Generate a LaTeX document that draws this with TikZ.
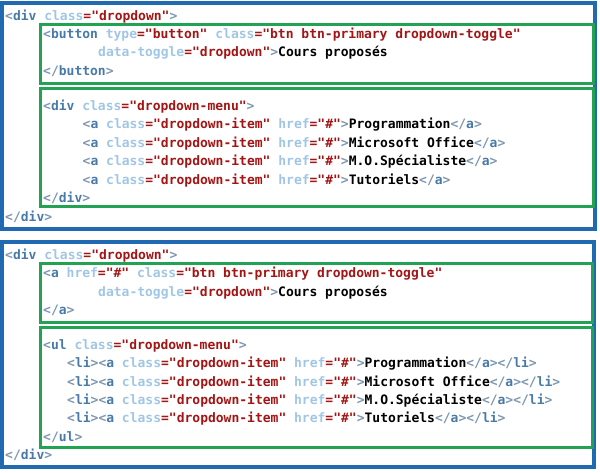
\documentclass[tikz,border=0pt]{standalone}
\usepackage{fontspec}
\newfontfamily\codefont{DejaVu Sans Mono}
\definecolor{boxblue}{RGB}{31,106,176}
\definecolor{boxgreen}{RGB}{34,163,84}
\definecolor{tagblue}{RGB}{72,122,168}
\definecolor{brkgray}{RGB}{125,150,175}
\definecolor{attblue}{RGB}{160,198,228}
\definecolor{valred}{RGB}{163,21,21}
\newcommand{\hop}[1]{\textcolor{brkgray}{<}\textcolor{tagblue}{#1}}
\newcommand{\hcl}[1]{\textcolor{brkgray}{</}\textcolor{tagblue}{#1}\textcolor{brkgray}{>}}
\newcommand{\hgt}{\textcolor{brkgray}{>}}
\newcommand{\hatt}[1]{\textcolor{attblue}{#1}}
\newcommand{\hval}[1]{\textcolor{valred}{=#1}}
\begin{document}
\begin{tikzpicture}[x=1pt,y=-1pt,
  code/.style={anchor=base west,inner sep=0pt,
    font={\codefont\bfseries\fontsize{13}{15}\selectfont}},
  outer/.style={draw=boxblue,line width=3.5pt},
  inner/.style={draw=boxgreen,line width=3pt}]
 \useasboundingbox (0,0) rectangle (600,472);
 % frames
 \draw[outer] (2,3) rectangle (595,229);
 \draw[inner] (40.5,24) rectangle (593,83);
 \draw[inner] (40.5,88) rectangle (593,206);
 \draw[outer] (2,242) rectangle (594,467);
 \draw[inner] (40.5,263) rectangle (592,322.5);
 \draw[inner] (40.5,327.5) rectangle (592,447);
 % first version
 \node[code] (d1) at (5,20.5) {\hop{div} \hatt{class}\hval{"dropdown"}\hgt};
 \node[code] (b1) at (43,38.5) {\hop{button} \hatt{type}\hval{"button"} \hatt{class}\hval{"btn btn-primary dropdown-toggle"}};
 \node[code] (b2) at (98,56.5) {\hatt{data-toggle}\hval{"dropdown"}\hgt{}Cours proposés};
 \node[code] (b3) at (43,75.5) {\hcl{button}};
 \node[code] (m1) at (43,110.5) {\hop{div} \hatt{class}\hval{"dropdown-menu"}\hgt};
 \foreach \lbl/\yy [count=\i] in {Programmation/128.5,Microsoft Office/147.5,M.O.Spécialiste/165.5,Tutoriels/184.5}
  \node[code] (ia\i) at (82.5,\yy) {\hop{a} \hatt{class}\hval{"dropdown-item"} \hatt{href}\hval{"\#"}\hgt{}\lbl\hcl{a}};
 \node[code] (m2) at (43,202.5) {\hcl{div}};
 \node[code] (d2) at (5,221.5) {\hcl{div}};
 % second version
 \node[code] (d3) at (5,259.5) {\hop{div} \hatt{class}\hval{"dropdown"}\hgt};
 \node[code] (a1) at (43,277.5) {\hop{a} \hatt{href}\hval{"\#"} \hatt{class}\hval{"btn btn-primary dropdown-toggle"}};
 \node[code] (a2) at (98,296.5) {\hatt{data-toggle}\hval{"dropdown"}\hgt{}Cours proposés};
 \node[code] (a3) at (43,314.5) {\hcl{a}};
 \node[code] (u1) at (43,349.5) {\hop{ul} \hatt{class}\hval{"dropdown-menu"}\hgt};
 \foreach \lbl/\yy [count=\i] in {Programmation/367.5,Microsoft Office/386.5,M.O.Spécialiste/404.5,Tutoriels/422.5}
  \node[code] (ib\i) at (67,\yy) {\hop{li}\hgt\hop{a} \hatt{class}\hval{"dropdown-item"} \hatt{href}\hval{"\#"}\hgt{}\lbl\hcl{a}\hcl{li}};
 \node[code] (u2) at (43,441.5) {\hcl{ul}};
 \node[code] (d4) at (5,459.5) {\hcl{div}};
\end{tikzpicture}
\end{document}
